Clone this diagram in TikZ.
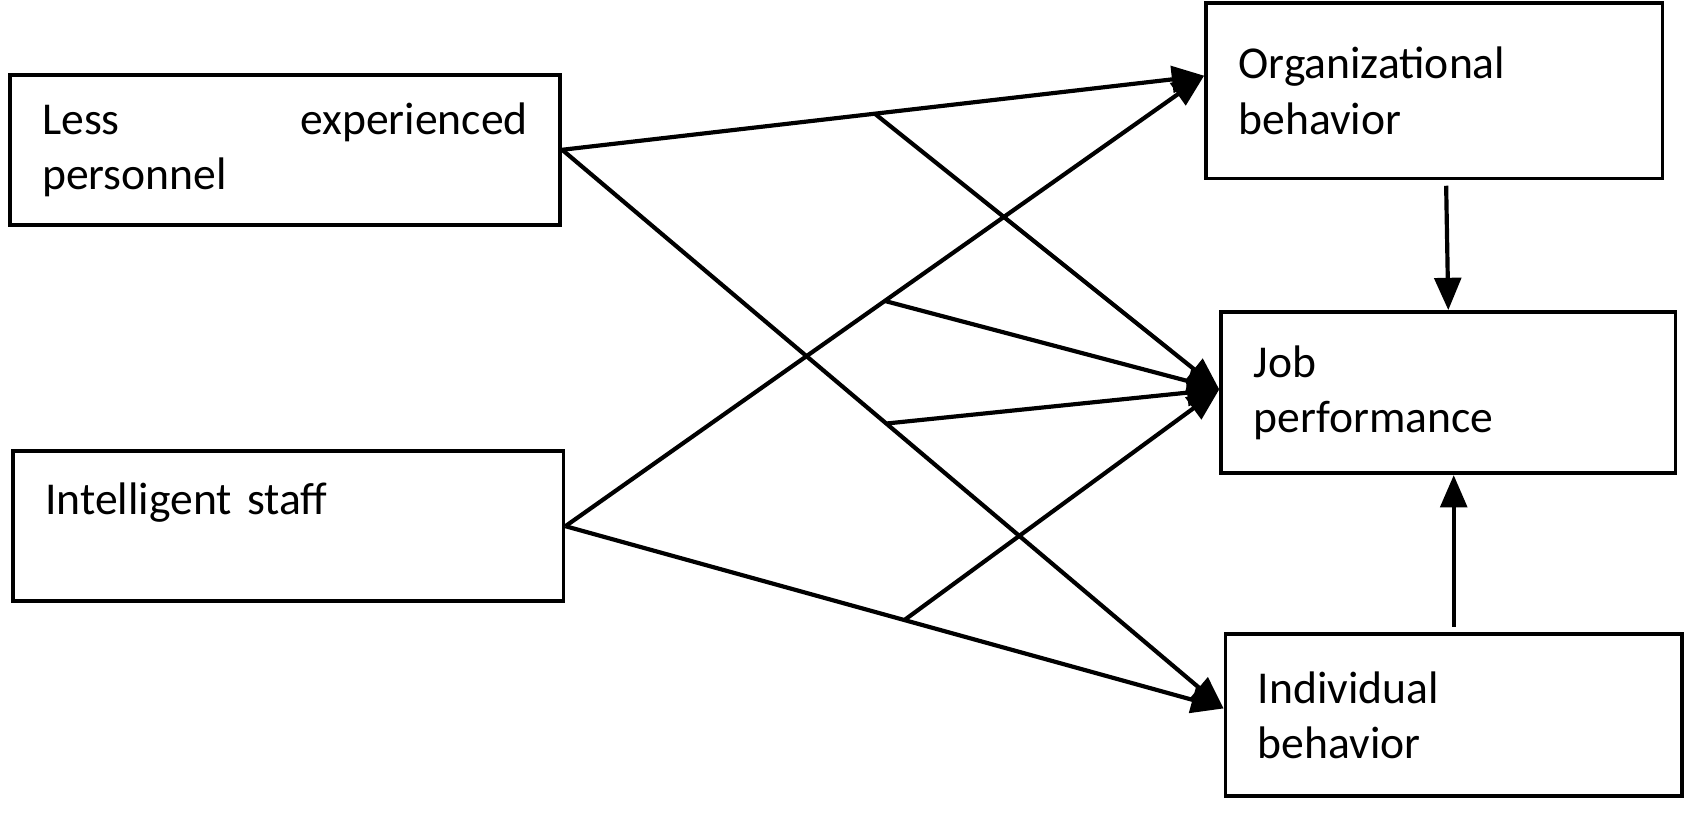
\documentclass[tikz,border=0pt]{standalone}
\usepackage{fontspec}
\setmainfont{Carlito}
\usetikzlibrary{arrows.meta}
\tikzset{
  box/.style={draw, line width=1pt, align=left, inner xsep=0.3cm, inner ysep=0pt,
    font=\fontsize{12}{14.5}\selectfont},
  arr/.style={line width=1.1pt, -{Triangle[length=8.5pt,width=7pt]}}
}
\begin{document}
\begin{tikzpicture}%[scale=1]
  \useasboundingbox (0,0) rectangle (15.68,7.69);
  % left boxes
  \node[box, text width=4.49cm, minimum height=1.39cm] (lep) at (2.635,6.305) {Less\hfill experienced\\personnel};
  \node[box, text width=4.49cm, minimum height=1.39cm] (ist) at (2.665,2.825) {Intelligent staff\\\mbox{}};
  % right boxes
  \node[box, text width=3.62cm, minimum height=1.62cm] (org) at (13.26,6.85) {Organizational\\behavior};
  \node[box, text width=3.60cm, minimum height=1.49cm] (job) at (13.39,4.06) {Job\\performance};
  \node[box, text width=3.62cm, minimum height=1.50cm] (ind) at (13.44,1.08) {Individual\\behavior};
  % direct effects
  \draw[arr] (lep.east) -- ([yshift=0.14cm]org.west) coordinate[pos=0.487] (m1);
  \draw[arr] (lep.east) -- ([yshift=0.06cm]ind.west) coordinate[pos=0.49] (m2);
  \draw[arr] (ist.east) -- ([yshift=0.14cm]org.west) coordinate[pos=0.50] (m3);
  \draw[arr] (ist.east) -- ([yshift=0.06cm]ind.west) coordinate[pos=0.515] (m4);
  % into job performance
  \foreach \m in {m1,m2,m3,m4}
    \draw[arr] (\m) -- ([yshift=0.03cm]job.west);
  \draw[arr] ([xshift=0.11cm,yshift=-0.05cm]org.south) -- (job.north);
  \draw[arr] ([yshift=0.05cm]ind.north) -- (job.south -| ind.north);
\end{tikzpicture}
\end{document}
